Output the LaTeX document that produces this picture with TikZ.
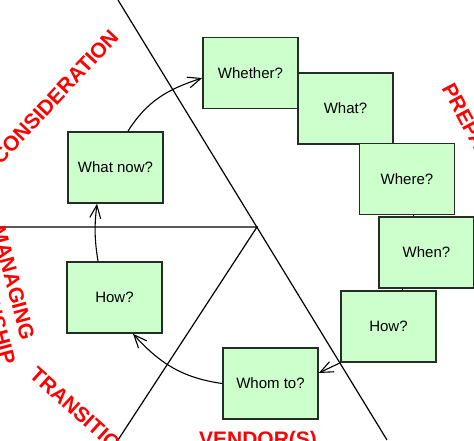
\documentclass[tikz,border=0pt]{standalone}
\usepackage{fontspec}
\setmainfont{Liberation Sans}
\usetikzlibrary{arrows.meta}
\definecolor{boxfill}{RGB}{204,255,204}
\definecolor{boxline}{RGB}{35,45,35}
\begin{document}
\begin{tikzpicture}[x=1pt,y=1pt,
  qbox/.style={draw=boxline, fill=boxfill, line width=1.6pt, minimum width=95pt, minimum height=71pt, inner sep=0pt, font=\fontsize{15}{18}\selectfont},
  phase/.style={text=red, font=\fontsize{21}{25}\selectfont\bfseries, inner sep=0pt},
  arr/.style={line width=1.1pt, -{Straight Barb[length=13pt,width=11pt]}},
  sep/.style={line width=1.2pt},
  link/.style={line width=1pt}]
\useasboundingbox (0,0) rectangle (474,440);
\clip (0,0) rectangle (474,440);
% separating lines
\coordinate (top) at (118,440);
\coordinate (V) at (257,213);
\coordinate (bot1) at (387,0);
\coordinate (left) at (0,213);
\coordinate (bot2) at (118,0);
\draw[sep] (top) -- (bot1);
\draw[sep] (left) -- (V) -- (bot2);
% phase labels
\node[phase, rotate=47] (cons) at (55,343) {CONSIDERATION};
\node[phase, rotate=-62] (prep) at (483,289) {PREPARATION};
\node[phase, rotate=-75, align=center] (mgr) at (1,154) {MANAGING\\RELATIONSHIP};
\node[phase, rotate=-42] (trans) at (81,26) {TRANSITION};
\node[phase, anchor=base] (vend) at (258,-6) {VENDOR(S)};
% boxes
\node[qbox] (whether) at (250.5,367) {Whether?};
\node[qbox] (what) at (345.5,331.5) {What?};
\node[qbox] (where) at (407,261) {Where?};
\node[qbox] (when) at (426.5,187.5) {When?};
\node[qbox] (howR) at (388.5,113.5) {How?};
\node[qbox] (whom) at (270.5,56.5) {Whom to?};
\node[qbox] (howL) at (114.5,142.5) {How?};
\node[qbox] (whatnow) at (115.5,272.5) {What now?};
% short links
\coordinate (k1) at (413,0);
\coordinate (k2) at (402,0);
\draw[link] (where.south -| k1) -- (when.north -| k1);
\draw[link] (when.south -| k2) -- (howR.north -| k2);
% arrows
\draw[arr] ([xshift=12.5pt]whatnow.north) to[out=58,in=198] ([yshift=-5pt]whether.west);
\draw[arr] ([xshift=-16.5pt]howL.north) to[bend left=8] ([xshift=-18.5pt]whatnow.south);
\draw[arr] (whom.west) to[out=172,in=-48] ([xshift=18.5pt]howL.south);
\draw[arr] (howR.south west) -- ([yshift=10.5pt]whom.east);
\end{tikzpicture}
\end{document}
